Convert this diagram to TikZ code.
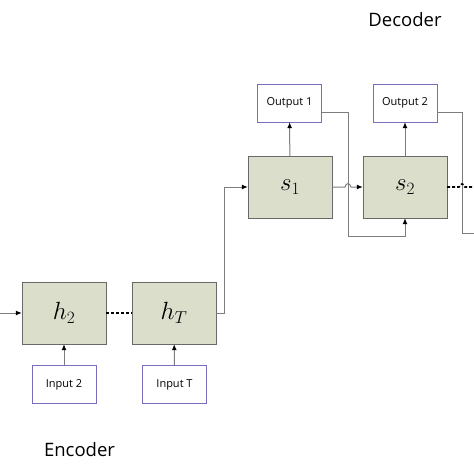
\documentclass[tikz,border=0pt]{standalone}
\usepackage{fontspec}
\setmainfont{Open Sans}
\usetikzlibrary{arrows.meta}
\definecolor{cellfill}{RGB}{219,222,203}
\definecolor{cellline}{RGB}{105,105,105}
\definecolor{ioline}{RGB}{120,110,190}
\definecolor{wire}{RGB}{125,125,125}
\begin{document}
\begin{tikzpicture}[x=1pt,y=-1pt,>={Latex[length=6pt,width=5pt,color=black]},
    cell/.style={draw=cellline,fill=cellfill,minimum width=84pt,minimum height=62pt,inner sep=0pt,font=\fontsize{27}{30}\selectfont},
    iobox/.style={draw=ioline,fill=white,minimum width=64pt,minimum height=38pt,inner sep=0pt,font=\fontsize{11}{13}\selectfont},
    wireline/.style={draw=wire,line width=1pt},
    dots/.style={draw=black,line width=1.6pt,dash pattern=on 3pt off 2pt},
    title/.style={font=\fontsize{18.5}{22}\selectfont}]
                \useasboundingbox(0,0)rectangle(474,474);
                \node[title](dec)at(405,20){Decoder};
                \node[title](enc)at(79.5,450){Encoder};
                \node[cell](h2)at(64,313){$h_2$};
                \node[cell](hT)at(174,313){$h_T$};
                \node[cell](s1)at(290,187){$s_1$};
                \node[cell](s2)at(405,187){$s_2$};
                \node[iobox](in2)at(64,384.5){Input 2};
                \node[iobox](inT)at(174.5,384.5){Input T};
                \node[iobox](out1)at(289.5,103){Output 1};
                \node[iobox](out2)at(405,103){Output 2};
                \coordinate(l)at(0,313);
                \coordinate(r)at(474,187);
                \coordinate(rb)at(474,233);
                \draw[wireline,->](l)--(h2);
                \draw[dots](h2)--(hT);
                \draw[wireline,->](in2)--(h2);
                \draw[wireline,->](inT)--(hT);
                \draw[wireline,->](hT.east)--(224,313)--(224,187)--(s1.west);
                \draw[wireline,->](s1)--(out1);
                \draw[wireline,->](s2)--(out2);
                \draw[wireline,->](s1.east)--(345,187)..controls(346,182.5)and(350,182.5)..(351,187)--(s2.west);
                \draw[wireline,->]([yshift=-9pt]out1.east)--(348,112)--(348,236)--(405,236)--(s2.south);
                \draw[wireline]([yshift=-9pt]out2.east)--(462,112)--(462,233)--(rb);
                \draw[dots](s2.east)--(459,187)..controls(460,183)and(464,183)..(465,187)--(r);
            \end{tikzpicture}
\end{document}
